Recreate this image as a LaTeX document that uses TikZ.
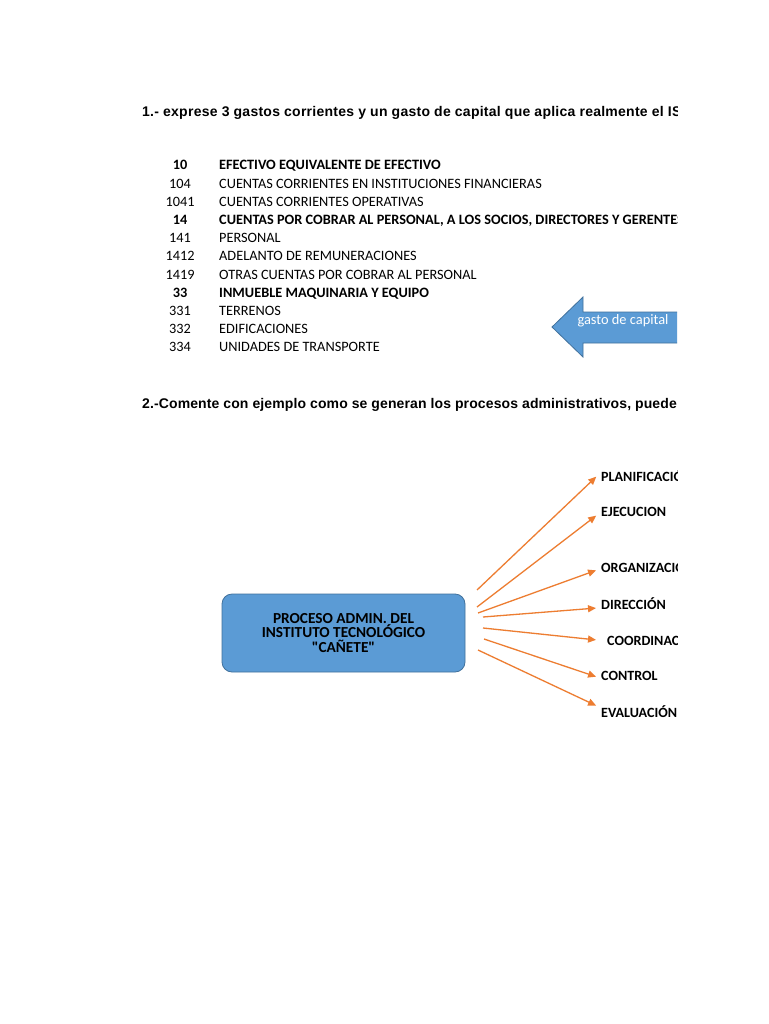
\documentclass[tikz,border=0pt]{standalone}
\usepackage{fontspec}
\setmainfont{Carlito}
\newfontfamily\headfontA[LetterSpace=1.8]{Liberation Sans}
\newfontfamily\headfontB[LetterSpace=0.8]{Liberation Sans}
\newcommand\strq{\XeTeXglyph\XeTeXcharglyph"22\relax}
\usetikzlibrary{arrows.meta}
\definecolor{boxblue}{HTML}{5B9BD5}
\definecolor{boxline}{HTML}{41719C}
\definecolor{arrorange}{HTML}{ED7D31}
\tikzset{
  headingA/.style={anchor=base west, inner sep=0pt, font=\headfontA\bfseries\fontsize{14}{16}\selectfont},
  headingB/.style={anchor=base west, inner sep=0pt, font=\headfontB\bfseries\fontsize{14}{16}\selectfont},
  num/.style={anchor=base, inner sep=0pt, font=\fontsize{14.3}{16}\selectfont},
  numb/.style={num, font=\bfseries\fontsize{14.3}{16}\selectfont},
  acct/.style={anchor=base west, inner sep=0pt, font=\fontsize{14.3}{16}\selectfont},
  acctb/.style={acct, font=\bfseries\fontsize{14.3}{16}\selectfont},
  proc/.style={anchor=west, inner sep=0pt, font=\bfseries\fontsize{14.1}{16}\selectfont},
  flow/.style={draw=arrorange, line width=1.3pt, -{Triangle[length=8pt,width=7pt]}, shorten >=1pt},
}
\begin{document}
\begin{tikzpicture}[x=1pt,y=-1pt]
\useasboundingbox[fill=white] (0,0) rectangle (768,1024);
\begin{scope}
\clip (0,0) rectangle (677,1024);
% headings
\node[headingA] (h1) at (142,117) {1.- exprese 3 gastos corrientes y un gasto de capital que aplica realmente el IST};
\node[headingB] (h2) at (142,408) {2.-Comente con ejemplo como se generan los procesos administrativos, puede};
% table
\foreach \y/\n/\t/\b in {
  169.5/10/EFECTIVO EQUIVALENTE DE EFECTIVO/1,
  188.5/104/CUENTAS CORRIENTES EN INSTITUCIONES FINANCIERAS/0,
  206.5/1041/CUENTAS CORRIENTES OPERATIVAS/0,
  224.5/14/{CUENTAS POR COBRAR AL PERSONAL, A LOS SOCIOS, DIRECTORES Y GERENTES}/1,
  242.5/141/PERSONAL/0,
  260.5/1412/ADELANTO DE REMUNERACIONES/0,
  279.5/1419/OTRAS CUENTAS POR COBRAR AL PERSONAL/0,
  297.5/33/INMUEBLE MAQUINARIA Y EQUIPO/1,
  315.5/331/TERRENOS/0,
  333.5/332/EDIFICACIONES/0,
  351.5/334/UNIDADES DE TRANSPORTE/0}{
  \ifnum\b=1
    \node[numb] (n\n) at (180,\y) {\n};
    \node[acctb] (t\n) at (219,\y) {\t};
  \else
    \node[num] (n\n) at (180,\y) {\n};
    \node[acct] (t\n) at (219,\y) {\t};
  \fi
}
% gasto de capital arrow
\draw[fill=boxblue, draw=boxline, line width=0.8pt]
  (552,327) -- (583,297) -- (583,312) -- (700,312) -- (700,343) -- (583,343) -- (583,357) -- cycle;
\node[font=\fontsize{14.4}{16}\selectfont, text=white, inner sep=0pt] (gc) at (623,321) {gasto de capital};
% process box
\node[draw=boxline, fill=boxblue, line width=0.8pt, rounded corners=10pt,
      minimum width=243pt, minimum height=78pt, align=center,
      font=\bfseries\fontsize{15.3}{14.5}\selectfont] (box) at (343.5,633)
  {PROCESO ADMIN. DEL\\INSTITUTO TECNOLÓGICO\\\strq CAÑETE\strq};
% labels
\node[proc] (p1) at (601,476) {PLANIFICACIÓN};
\node[proc] (p2) at (601,512) {EJECUCION};
\node[proc] (p3) at (601,567) {ORGANIZACIÓN};
\node[proc] (p4) at (601,604) {DIRECCIÓN};
\node[proc] (p5) at (607,640) {COORDINACIÓN};
\node[proc] (p6) at (601,676) {CONTROL};
\node[proc] (p7) at (601,712) {EVALUACIÓN};
% start points
\coordinate (s1) at (477,590);
\coordinate (s2) at (477,607);
\coordinate (s3) at (478,613);
\coordinate (s4) at (483,617);
\coordinate (s5) at (483,628);
\coordinate (s6) at (484,639);
\coordinate (s7) at (478,650);
\draw[flow] (s1) -- (597,476) coordinate (e1);
\draw[flow] (s2) -- (597,515) coordinate (e2);
\draw[flow] (s3) -- (597,570) coordinate (e3);
\draw[flow] (s4) -- (597,608) coordinate (e4);
\draw[flow] (s5) -- (597,640) coordinate (e5);
\draw[flow] (s6) -- (597,677) coordinate (e6);
\draw[flow] (s7) -- (597,706) coordinate (e7);
\end{scope}
\end{tikzpicture}
\end{document}
